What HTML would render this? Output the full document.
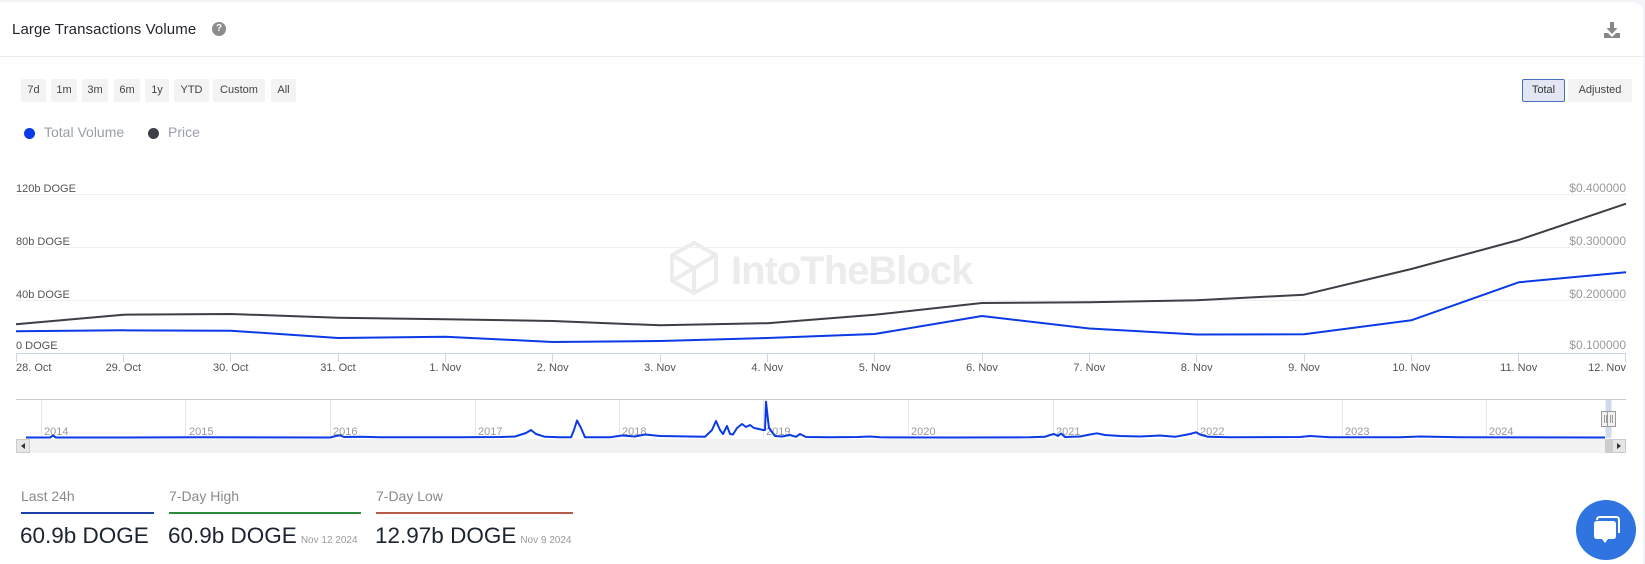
<!DOCTYPE html>
<html><head><meta charset="utf-8">
<style>
html,body{margin:0;padding:0;}
body{width:1645px;height:564px;background:#f3f4f8;position:relative;overflow:hidden;font-family:"Liberation Sans",Arial,sans-serif;}
.card{position:absolute;left:0;top:2px;width:1643px;height:562px;background:#fff;border-top-right-radius:10px;}
.abs{position:absolute;}
.title{left:12px;top:21px;font-size:15px;color:#1f2329;white-space:nowrap;letter-spacing:0.1px;}
.help{left:212px;top:22px;width:14px;height:14px;border-radius:50%;background:#8c8c8c;color:#fff;font-size:10px;font-weight:bold;text-align:center;line-height:14px;}
.divider{left:0;top:56px;width:1643px;height:1px;background:#ebebeb;}
.btn{position:absolute;top:79px;height:23px;background:#f3f3f4;color:#444;font-size:11px;line-height:23px;text-align:center;border-radius:2px;}
.lg{position:absolute;top:124px;font-size:14px;color:#9aa0a8;white-space:nowrap;}
.dot{position:absolute;width:11px;height:11px;border-radius:50%;}
.slabel{position:absolute;top:488px;font-size:14px;color:#8a8a8a;white-space:nowrap;}
.sline{position:absolute;top:512px;height:2px;}
.sval{position:absolute;top:523px;font-size:22.5px;color:#1b2430;white-space:nowrap;}
.sval small{font-size:10px;color:#9a9a9a;margin-left:4px;}
</style></head>
<body>
<div class="card"></div>
<div class="abs title">Large Transactions Volume</div>
<div class="abs help">?</div>
<svg class="abs" style="left:1602px;top:20px" width="20" height="20" viewBox="0 0 20 20">
  <rect x="8" y="2" width="4" height="7" fill="#888"/>
  <polygon points="4.5,8 15.5,8 10,14" fill="#888"/>
  <polygon points="2,13 6,13 10,17 14,13 18,13 18,18 2,18" fill="#888"/>
</svg>
<div class="abs divider"></div>

<div class="btn" style="left:21px;width:25px;">7d</div>
<div class="btn" style="left:51px;width:26px;">1m</div>
<div class="btn" style="left:82px;width:26px;">3m</div>
<div class="btn" style="left:114px;width:26px;">6m</div>
<div class="btn" style="left:145px;width:24px;">1y</div>
<div class="btn" style="left:174px;width:35px;">YTD</div>
<div class="btn" style="left:213px;width:52px;">Custom</div>
<div class="btn" style="left:271px;width:25px;">All</div>

<div class="btn" style="left:1522px;width:41px;height:21px;line-height:21px;background:#e2e7f3;border:1px solid #4b6cc4;color:#333;">Total</div>
<div class="btn" style="left:1568px;width:64px;color:#444;">Adjusted</div>

<div class="dot" style="left:24px;top:128px;background:#0a3be6;"></div>
<div class="lg" style="left:44px;">Total Volume</div>
<div class="dot" style="left:148px;top:128px;background:#3c3f45;"></div>
<div class="lg" style="left:168px;">Price</div>

<svg class="abs" style="left:0;top:0" width="1645" height="564">
  <!-- watermark -->
  <g fill="none" stroke="#ececec" stroke-width="4" stroke-linejoin="round">
    <polygon points="694,243 716,255 716,281 694,293 672,281 672,255"/>
    <polyline points="672,255 694,268 716,255"/>
    <line x1="694" y1="268" x2="694" y2="293"/>
    <line x1="672" y1="281" x2="694" y2="268"/>
  </g>
  <text x="731" y="284" font-family="Liberation Sans, Arial, sans-serif" font-weight="bold" font-size="40" letter-spacing="-1" fill="#ececec">IntoTheBlock</text>

  <!-- grid -->
  <g stroke="#f0f0f0" stroke-width="1">
    <line x1="16" y1="194.5" x2="1626" y2="194.5"/>
    <line x1="16" y1="247.5" x2="1626" y2="247.5"/>
    <line x1="16" y1="300.5" x2="1626" y2="300.5"/>
  </g>
  <line x1="16" y1="353.5" x2="1626" y2="353.5" stroke="#ccd6eb"/>
  <g stroke="#ccd6eb">
    <line x1="16.5" y1="353" x2="16.5" y2="362"/>
    <line x1="123.5" y1="353" x2="123.5" y2="362"/>
    <line x1="230.5" y1="353" x2="230.5" y2="362"/>
    <line x1="338.5" y1="353" x2="338.5" y2="362"/>
    <line x1="445.5" y1="353" x2="445.5" y2="362"/>
    <line x1="552.5" y1="353" x2="552.5" y2="362"/>
    <line x1="660.5" y1="353" x2="660.5" y2="362"/>
    <line x1="767.5" y1="353" x2="767.5" y2="362"/>
    <line x1="874.5" y1="353" x2="874.5" y2="362"/>
    <line x1="982.5" y1="353" x2="982.5" y2="362"/>
    <line x1="1089.5" y1="353" x2="1089.5" y2="362"/>
    <line x1="1196.5" y1="353" x2="1196.5" y2="362"/>
    <line x1="1304.5" y1="353" x2="1304.5" y2="362"/>
    <line x1="1411.5" y1="353" x2="1411.5" y2="362"/>
    <line x1="1518.5" y1="353" x2="1518.5" y2="362"/>
    <line x1="1625.5" y1="353" x2="1625.5" y2="362"/>
  </g>

  <!-- y labels -->
  <g font-family="Liberation Sans, Arial, sans-serif" font-size="11" fill="#555">
    <text x="16" y="192">120b DOGE</text>
    <text x="16" y="245">80b DOGE</text>
    <text x="16" y="298">40b DOGE</text>
    <text x="16" y="349">0 DOGE</text>
  </g>
  <g font-family="Liberation Sans, Arial, sans-serif" font-size="12" fill="#9a9a9a" text-anchor="end">
    <text x="1626" y="192">$0.400000</text>
    <text x="1626" y="245">$0.300000</text>
    <text x="1626" y="298">$0.200000</text>
    <text x="1626" y="349">$0.100000</text>
  </g>
  <!-- x labels -->
  <g font-family="Liberation Sans, Arial, sans-serif" font-size="11" fill="#555" text-anchor="middle">
    <text x="16" y="371" text-anchor="start">28. Oct</text>
    <text x="123.3" y="371">29. Oct</text>
    <text x="230.7" y="371">30. Oct</text>
    <text x="338" y="371">31. Oct</text>
    <text x="445.3" y="371">1. Nov</text>
    <text x="552.7" y="371">2. Nov</text>
    <text x="660" y="371">3. Nov</text>
    <text x="767.3" y="371">4. Nov</text>
    <text x="874.7" y="371">5. Nov</text>
    <text x="982" y="371">6. Nov</text>
    <text x="1089.3" y="371">7. Nov</text>
    <text x="1196.7" y="371">8. Nov</text>
    <text x="1304" y="371">9. Nov</text>
    <text x="1411.3" y="371">10. Nov</text>
    <text x="1518.7" y="371">11. Nov</text>
    <text x="1626" y="371" text-anchor="end">12. Nov</text>
  </g>

  <!-- series -->
  <polyline fill="none" stroke="#0a3be6" stroke-width="2" stroke-linejoin="round"
    points="16,331.3 123.3,330.3 230.7,330.7 338,338 445.3,336.7 552.7,342 660,341 767.3,338 874.7,334 982,316 1089.3,328.5 1196.7,334.5 1304,334.3 1411.3,320.3 1518.7,282.3 1626,272.3"/>
  <polyline fill="none" stroke="#3c3f45" stroke-width="2" stroke-linejoin="round"
    points="16,324.3 123.3,314.7 230.7,314 338,317.7 445.3,319.3 552.7,321 660,325.3 767.3,323.2 874.7,314.8 982,303 1089.3,302.2 1196.7,300.3 1304,294.7 1411.3,269 1518.7,240 1626,203.7"/>

  <!-- navigator -->
  <line x1="16" y1="399.5" x2="1626" y2="399.5" stroke="#cccccc"/>
  <g stroke="#e6e6e6">
    <line x1="41.5" y1="400" x2="41.5" y2="438"/>
    <line x1="185.5" y1="400" x2="185.5" y2="438"/>
    <line x1="330.5" y1="400" x2="330.5" y2="438"/>
    <line x1="475.5" y1="400" x2="475.5" y2="438"/>
    <line x1="619.5" y1="400" x2="619.5" y2="438"/>
    <line x1="763.5" y1="400" x2="763.5" y2="438"/>
    <line x1="908.5" y1="400" x2="908.5" y2="438"/>
    <line x1="1053.5" y1="400" x2="1053.5" y2="438"/>
    <line x1="1197.5" y1="400" x2="1197.5" y2="438"/>
    <line x1="1342.5" y1="400" x2="1342.5" y2="438"/>
    <line x1="1486.5" y1="400" x2="1486.5" y2="438"/>
  </g>
  <g font-family="Liberation Sans, Arial, sans-serif" font-size="11" fill="#9a9a9a">
    <text x="44" y="435">2014</text>
    <text x="189" y="435">2015</text>
    <text x="333" y="435">2016</text>
    <text x="478" y="435">2017</text>
    <text x="622" y="435">2018</text>
    <text x="766" y="435">2019</text>
    <text x="911" y="435">2020</text>
    <text x="1056" y="435">2021</text>
    <text x="1200" y="435">2022</text>
    <text x="1345" y="435">2023</text>
    <text x="1489" y="435">2024</text>
  </g>
  <polyline fill="none" stroke="#0a3be6" stroke-width="2" stroke-linejoin="round"
    points="26,437.5 50,437.5 53,435.5 56,437.5 120,437.5 200,437.2 330,437.5 336,436 340,435.3 344,437 360,436.8 380,437.3 460,437.3 500,437 515,436.5 526,433 531,430 536,434 545,436.8 560,437.3 571,437.3 574,430 577,420.5 581,428 585,437.3 610,437.3 622,435.5 635,436.5 645,434.5 660,436 690,436.5 705,436.8 712,430 716,421 720,430 723,434 727,426 730,434 733,434.5 737,428 742,424 746,427 750,425 754,428 759,429 763,430 765,430 766,401.6 768,420 769,428 775,436 782,436.5 790,435 796,436.8 800,434 806,437 830,437.2 858,437 870,436.5 880,437.3 950,437.5 1030,437.3 1045,436.8 1050,435 1054,434 1058,436 1061,433.5 1065,437 1080,436.5 1090,434.5 1097,433.3 1105,435 1120,436 1140,436.5 1160,435.5 1175,436.8 1190,434 1196,432.3 1200,434.5 1208,436.8 1230,437.3 1300,437 1310,436 1330,437.3 1400,437.3 1420,436.5 1460,437.3 1605,437.5"/>
  <rect x="1605.5" y="400" width="6" height="38" fill="rgba(102,133,194,0.3)"/>
  <rect x="1601.5" y="411.5" width="8" height="15" fill="#f2f2f2" stroke="#999"/>
  <rect x="1607.5" y="411.5" width="8" height="15" fill="#f2f2f2" stroke="#999"/>
  <g stroke="#999"><line x1="1604.5" y1="415" x2="1604.5" y2="423"/><line x1="1606.5" y1="415" x2="1606.5" y2="423"/><line x1="1610.5" y1="415" x2="1610.5" y2="423"/><line x1="1612.5" y1="415" x2="1612.5" y2="423"/></g>
  <!-- scrollbar -->
  <rect x="16" y="439" width="1610" height="14" fill="#f2f2f2"/>
  <rect x="16.5" y="439.5" width="13" height="13" fill="#e6e6e6" stroke="#cccccc"/>
  <polygon points="25,443 25,449 21,446" fill="#333"/>
  <rect x="1605" y="439" width="7" height="14" fill="#cccccc"/>
  <rect x="1612.5" y="439.5" width="13" height="13" fill="#e6e6e6" stroke="#cccccc"/>
  <polygon points="1617,443 1617,449 1621,446" fill="#333"/>
</svg>

<div class="slabel" style="left:21px;">Last 24h</div>
<div class="sline" style="left:21px;width:133px;background:#1f3fa8;"></div>
<div class="sval" style="left:20px;">60.9b DOGE</div>

<div class="slabel" style="left:169px;">7-Day High</div>
<div class="sline" style="left:169px;width:192px;background:#2e8b3e;"></div>
<div class="sval" style="left:168px;">60.9b DOGE<small>Nov 12 2024</small></div>

<div class="slabel" style="left:376px;">7-Day Low</div>
<div class="sline" style="left:376px;width:197px;background:#b85c4a;"></div>
<div class="sval" style="left:375px;">12.97b DOGE<small>Nov 9 2024</small></div>

<svg class="abs" style="left:1575px;top:500px" width="62" height="62" viewBox="0 0 62 62">
  <circle cx="31" cy="30" r="30" fill="#2f74e0"/>
  <path d="M22 20 Q22 17 25 17 L41 17 Q44 17 44 20 L44 33" fill="none" stroke="#fff" stroke-width="2"/>
  <path d="M19 24 Q19 21 22 21 L38 21 Q41 21 41 24 L41 36 Q41 39 38 39 L33 39 L30 43 L27 39 L22 39 Q19 39 19 36 Z" fill="#fff"/>
</svg>
</body></html>
